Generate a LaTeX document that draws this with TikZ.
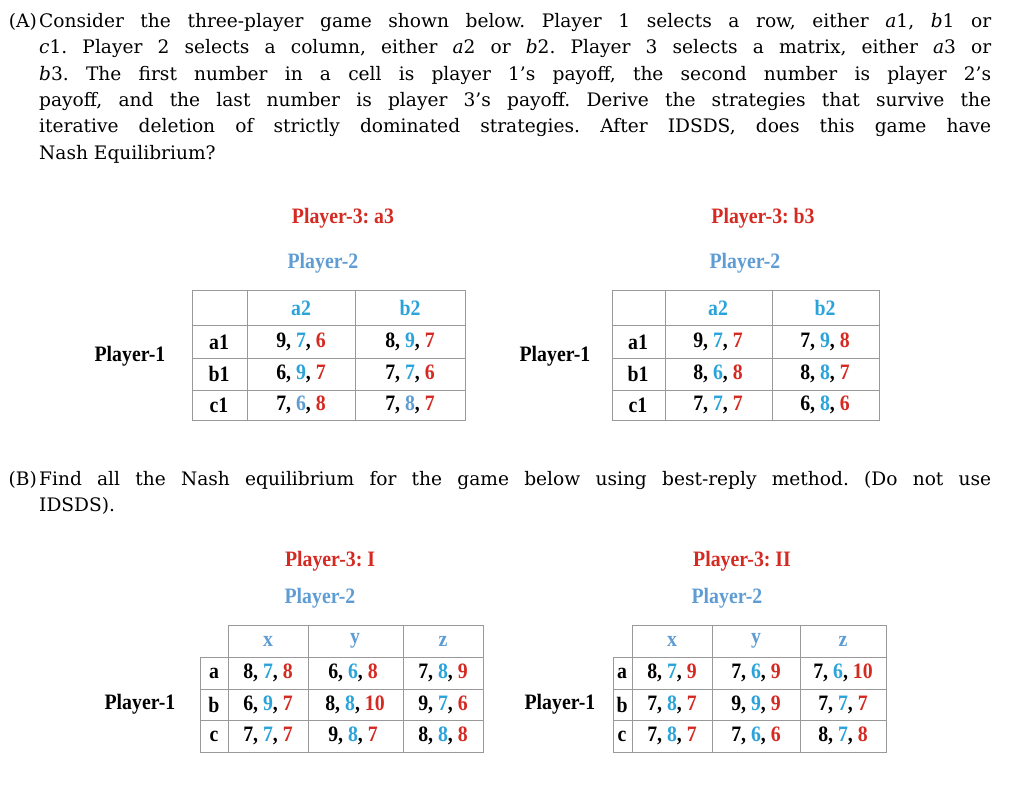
\documentclass[tikz,border=0pt]{standalone}
\usepackage{fontspec}
\newfontfamily\tb{Liberation Serif}[FakeStretch=0.9]
\newfontfamily\bk{DejaVu Serif}
\definecolor{rd}{HTML}{D42A22}
\definecolor{bl}{HTML}{2AA3DA}
\definecolor{hb}{HTML}{5E9CD3}
\newcommand{\pay}[3]{#1, \textcolor{bl}{#2}, \textcolor{rd}{#3}}
\newcommand{\vv}[1]{\textit{#1}}
\frenchspacing
\tikzset{
  body/.style={anchor=north west,inner sep=0pt,font=\bk\fontsize{18.6}{26.4}\selectfont,text width=952pt,align=justify},
  lab/.style={anchor=north east,inner sep=0pt,font=\bk\fontsize{18.6}{26.4}\selectfont},
  t/.style={font=\tb\bfseries\fontsize{22}{24}\selectfont,inner sep=0pt},
  grid/.style={draw=gray!80,line width=0.8pt}
}
\begin{document}
\begin{tikzpicture}[x=1pt,y=-1pt]
\useasboundingbox (0,0) rectangle (1024,796);
\node[lab] (A) at (37,13) {(A)};
\node[body] (ptA) at (39,13) {Consider the three-player game shown below. Player 1 selects a row, either \vv{a}1, \vv{b}1 or\linebreak
\vv{c}1. Player 2 selects a column, either \vv{a}2 or \vv{b}2. Player 3 selects a matrix, either \vv{a}3 or\linebreak
\vv{b}3. The first number in a cell is player 1’s payoff, the second number is player 2’s\linebreak
payoff, and the last number is player 3’s payoff. Derive the strategies that survive the\linebreak
iterative deletion of strictly dominated strategies. After IDSDS, does this game have\linebreak
Nash Equilibrium?};
% Table A left
\node[t,text=rd] (h1) at (343,218) {Player-3: a3};
\node[t,text=hb] (h2) at (323,263) {Player-2};
\draw[grid] (192,290) rectangle (465,420);
\foreach \x in {247,355} \draw[grid] (\x,290) -- (\x,420);
\foreach \y in {325,358,390} \draw[grid] (192,\y) -- (465,\y);
\node[t] (p1a) at (130,356) {Player-1};
\node[t,text=bl] at (301,308) {a2};
\node[t,text=bl] at (410,308) {b2};
\node[t] at (219,342) {a1}; \node[t] at (219,374) {b1}; \node[t] at (219,405) {c1};
\node[t] at (301,342) {\pay{9}{7}{6}}; \node[t] at (410,342) {\pay{8}{9}{7}};
\node[t] at (301,374) {\pay{6}{9}{7}}; \node[t] at (410,374) {\pay{7}{7}{6}};
\node[t] at (301,405) {7, \textcolor{hb}{6}, \textcolor{rd}{8}}; \node[t] at (410,405) {7, \textcolor{hb}{8}, \textcolor{rd}{7}};
% Table A right
\node[t,text=rd] (h3) at (763,218) {Player-3: b3};
\node[t,text=hb] (h4) at (745,263) {Player-2};
\draw[grid] (612,290) rectangle (879,420);
\foreach \x in {665,772} \draw[grid] (\x,290) -- (\x,420);
\foreach \y in {325,358,390} \draw[grid] (612,\y) -- (879,\y);
\node[t] (p1b) at (555,356) {Player-1};
\node[t,text=bl] at (718,308) {a2};
\node[t,text=bl] at (825,308) {b2};
\node[t] at (638,342) {a1}; \node[t] at (638,374) {b1}; \node[t] at (638,405) {c1};
\node[t] at (718,342) {\pay{9}{7}{7}}; \node[t] at (825,342) {\pay{7}{9}{8}};
\node[t] at (718,374) {\pay{8}{6}{8}}; \node[t] at (825,374) {\pay{8}{8}{7}};
\node[t] at (718,405) {\pay{7}{7}{7}}; \node[t] at (825,405) {\pay{6}{8}{6}};
% Part B
\node[lab] (B) at (37,471) {(B)};
\node[body] (ptB) at (39,471) {Find all the Nash equilibrium for the game below using best-reply method. (Do not use\linebreak
IDSDS).};
% Table B left
\node[t,text=rd] (h5) at (330,561) {Player-3: I};
\node[t,text=hb] (h6) at (320,598) {Player-2};
\draw[grid] (228,625) -- (483,625);
\draw[grid] (200,657) rectangle (483,752);
\draw[grid] (228,625) -- (228,752);
\foreach \x in {308,403,483} \draw[grid] (\x,625) -- (\x,752);
\foreach \y in {689,720} \draw[grid] (200,\y) -- (483,\y);
\node[t] (p1c) at (140,704) {Player-1};
\node[t,text=hb] at (268,641) {x}; \node[t,text=hb] at (355,641) {y}; \node[t,text=hb] at (443,641) {z};
\node[t] at (214,673) {a}; \node[t] at (214,705) {b}; \node[t] at (214,736) {c};
\node[t] at (268,673) {\pay{8}{7}{8}}; \node[t] at (353,673) {\pay{6}{6}{8}}; \node[t] at (443,673) {\pay{7}{8}{9}};
\node[t] at (268,705) {\pay{6}{9}{7}}; \node[t] at (355,705) {\pay{8}{8}{10}}; \node[t] at (443,705) {\pay{9}{7}{6}};
\node[t] at (268,736) {\pay{7}{7}{7}}; \node[t] at (353,736) {\pay{9}{8}{7}}; \node[t] at (443,736) {\pay{8}{8}{8}};
% Table B right
\node[t,text=rd] (h7) at (742,561) {Player-3: II};
\node[t,text=hb] (h8) at (727,598) {Player-2};
\draw[grid] (632,625) -- (886,625);
\draw[grid] (613,657) rectangle (886,752);
\draw[grid] (632,625) -- (632,752);
\foreach \x in {712,800,886} \draw[grid] (\x,625) -- (\x,752);
\foreach \y in {689,720} \draw[grid] (613,\y) -- (886,\y);
\node[t] (p1d) at (560,704) {Player-1};
\node[t,text=hb] at (672,641) {x}; \node[t,text=hb] at (756,641) {y}; \node[t,text=hb] at (843,641) {z};
\node[t] at (622,673) {a}; \node[t] at (622,705) {b}; \node[t] at (622,736) {c};
\node[t] at (672,673) {\pay{8}{7}{9}}; \node[t] at (756,673) {\pay{7}{6}{9}}; \node[t] at (843,673) {\pay{7}{6}{10}};
\node[t] at (672,705) {\pay{7}{8}{7}}; \node[t] at (756,705) {\pay{9}{9}{9}}; \node[t] at (843,705) {\pay{7}{7}{7}};
\node[t] at (672,736) {\pay{7}{8}{7}}; \node[t] at (756,736) {\pay{7}{6}{6}}; \node[t] at (843,736) {\pay{8}{7}{8}};
\end{tikzpicture}
\end{document}
